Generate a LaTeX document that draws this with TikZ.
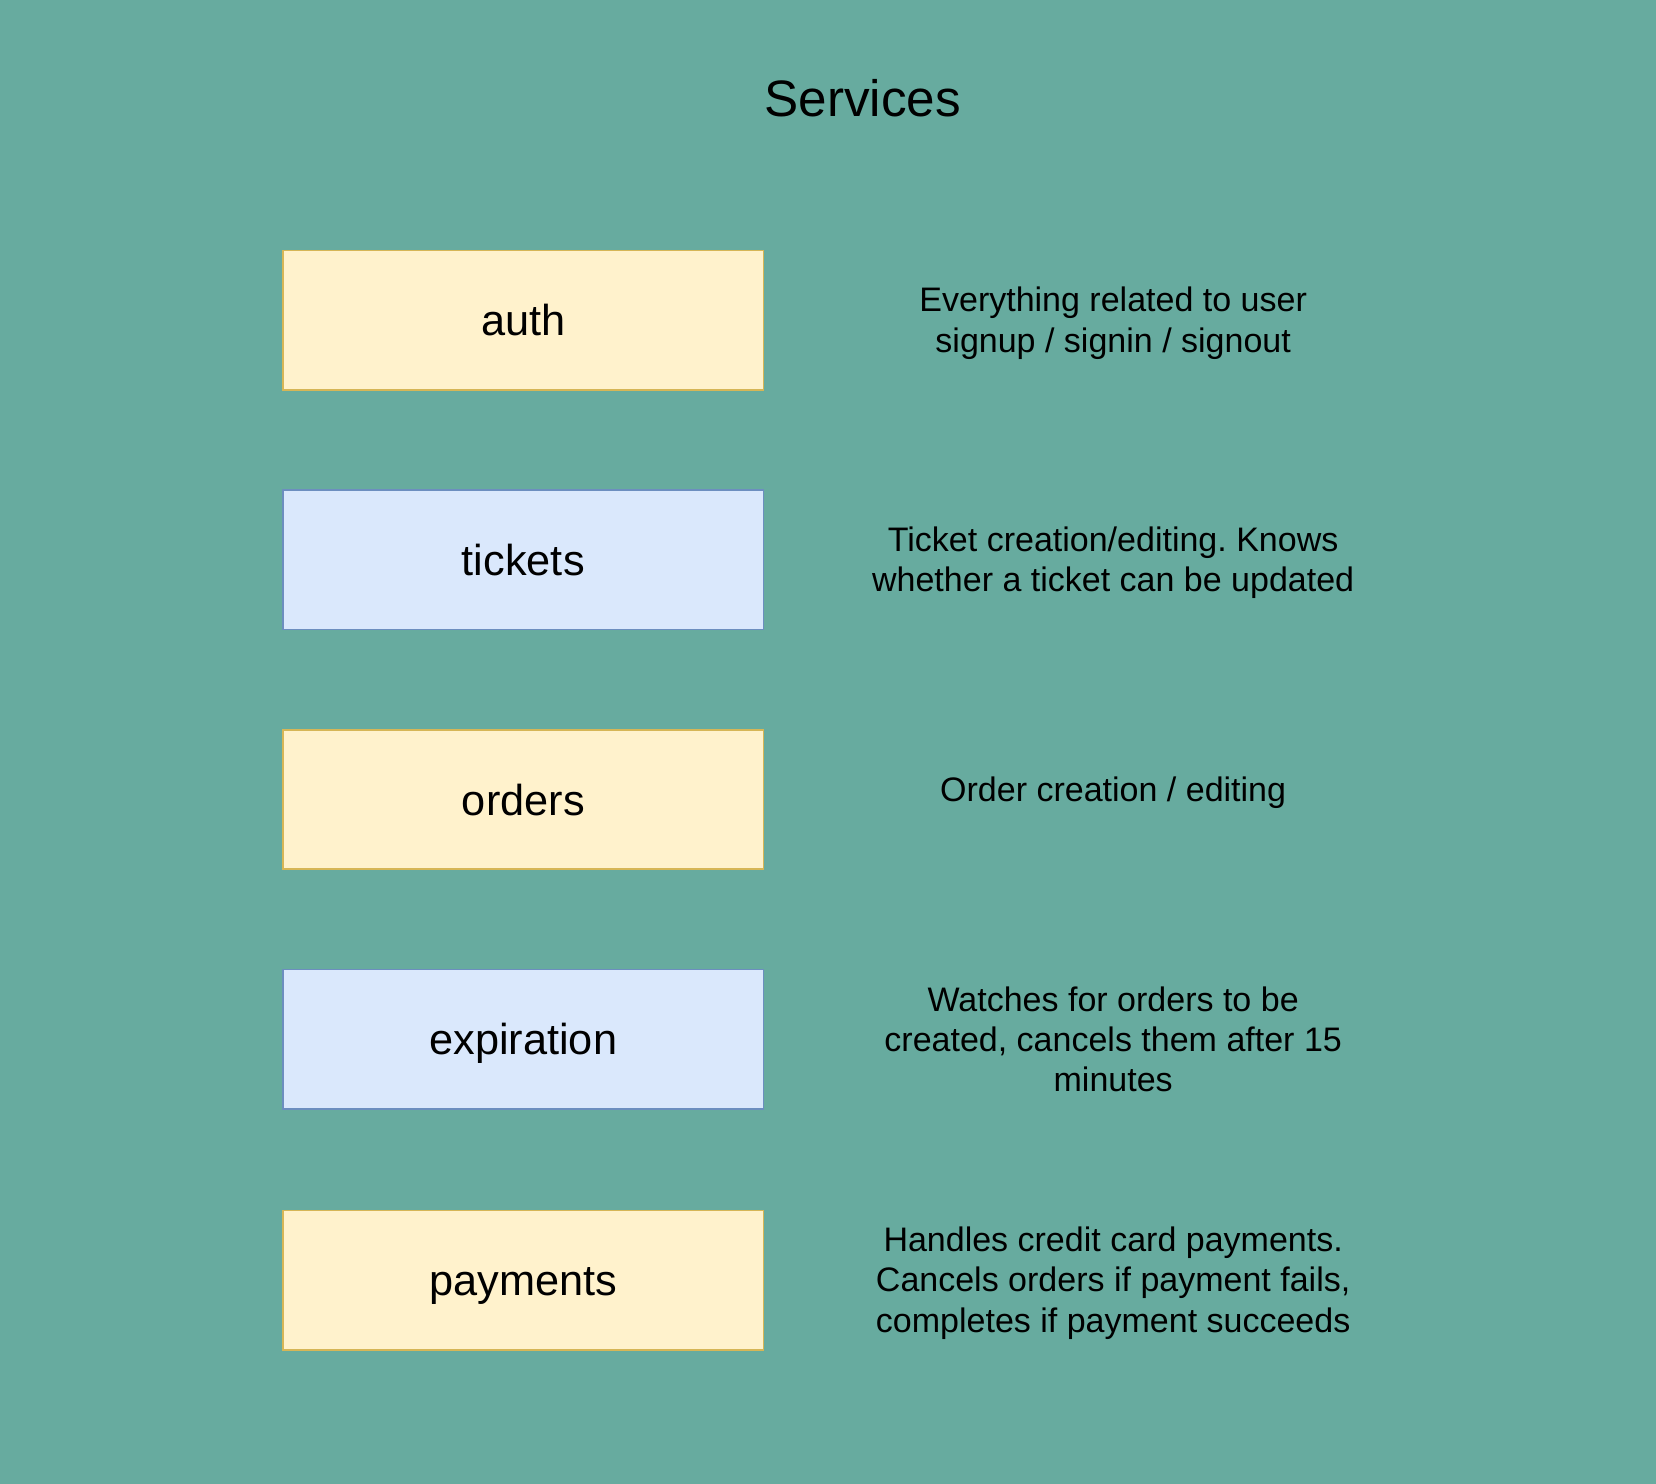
\documentclass[tikz,border=0pt]{standalone}
\usepackage{fontspec}
\setmainfont{Liberation Sans}
\frenchspacing
\definecolor{bg}{HTML}{67AB9F}
\definecolor{yfill}{HTML}{FFF2CC}
\definecolor{ydraw}{HTML}{D6B656}
\definecolor{bfill}{HTML}{DAE8FC}
\definecolor{bdraw}{HTML}{6C8EBF}
\tikzset{
  svc/.style={minimum width=455pt, minimum height=132pt, inner sep=0pt, line width=1.5pt,
    text height=29.4pt, text depth=0pt,
    font=\fontsize{41}{49}\selectfont},
  ysvc/.style={svc, fill=yfill, draw=ydraw},
  bsvc/.style={svc, fill=bfill, draw=bdraw},
  desc/.style={align=center, inner sep=0pt, font=\fontsize{32.2}{38}\selectfont},
  ttl/.style={inner sep=0pt, font=\fontsize{48.5}{58}\selectfont}
}
\begin{document}
\begin{tikzpicture}[x=1pt,y=-1pt]
\fill[bg] (0,0) rectangle (1568,1405);
\useasboundingbox (0,0) rectangle (1568,1405);
\node[ttl] (title) at (817,93) {Services};
\node[ysvc] (auth) at (495.5,303) {auth};
\node[bsvc] (tickets) at (495.5,530) {tickets};
\node[ysvc] (orders) at (495.5,757) {orders};
\node[bsvc] (expiration) at (495.5,984) {expiration};
\node[ysvc] (payments) at (495.5,1212) {payments};
\node[desc] (dauth) at (1054,306) {Everything related to user\\signup / signin / signout};
\node[desc] (dtickets) at (1054,533) {Ticket creation/editing. Knows\\whether a ticket can be updated};
\node[desc] (dorders) at (1054,751) {Order creation / editing};
\node[desc] (dexp) at (1054,984) {Watches for orders to be\\created, cancels them after 15\\minutes};
\node[desc] (dpay) at (1054,1215) {Handles credit card payments.\\Cancels orders if payment fails,\\completes if payment succeeds};
\end{tikzpicture}
\end{document}
